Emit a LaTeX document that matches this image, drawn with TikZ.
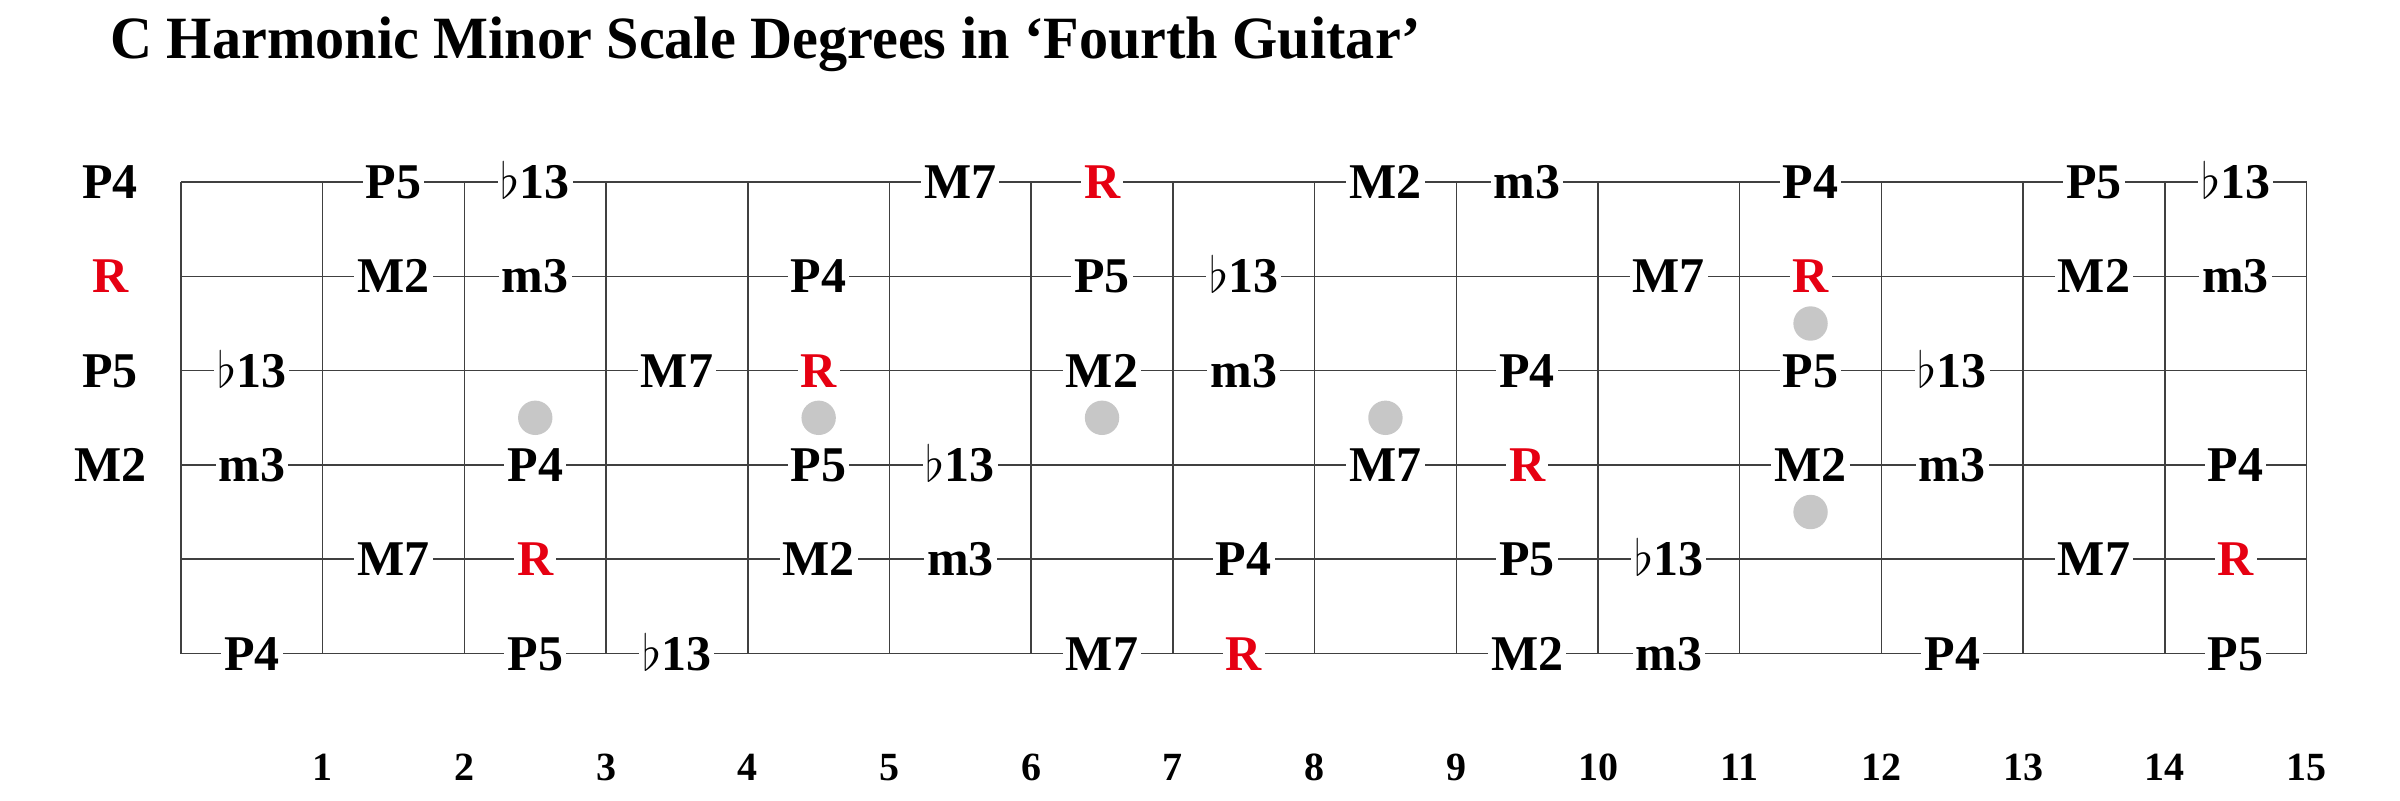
\documentclass[tikz,border=0pt]{standalone}
\usepackage{fontspec}
\setmainfont{Liberation Serif}
\usepackage{xcolor}
\definecolor{rootred}{RGB}{230,0,18}
\newcommand{\rootR}{\textcolor{rootred}{R}}
\newcommand{\flatXIII}{$\flat$13}

\begin{document}
\begin{tikzpicture}[x=0.5pt, y=-0.5pt,
	wire/.style={line width=0.75pt, black!75},
	deg/.style={fill=white, inner xsep=1.5pt, inner ysep=1pt, text height=16.5pt, text depth=0pt,
		font=\fontsize{25}{30}\selectfont\bfseries},
	fretno/.style={anchor=base, font=\fontsize{20}{24}\selectfont\bfseries},
	inlay/.style={fill=black!22}]
				\useasboundingbox (0,0) rectangle (2400,800);
				
				%% Título
				\node [anchor=base west, inner sep=0pt, font=\fontsize{30}{36}\selectfont\bfseries,
				xscale=0.97, transform shape] (title) at (110,58)
				{C Harmonic Minor Scale Degrees in ‘Fourth Guitar’};
				
				%% Cordas e trastes
				\foreach \y in {182,276.3,370.6,464.9,559.2,653.5}
				\draw [wire] (181,\y) -- (2306.5,\y);
				
				\foreach \k in {0,...,15}
				\draw [wire] ({181+141.7*\k},182) -- ({181+141.7*\k},653.5);
				
				%% Marcas
				\foreach \k in {3,5,7,9}
				\fill [inlay] ({181+141.7*(\k-0.5)},417.8) circle [radius=8.6pt];
				\fill [inlay] ({181+141.7*11.5},323.5) circle [radius=8.6pt];
				\fill [inlay] ({181+141.7*11.5},512) circle [radius=8.6pt];
				
				%% Números dos trastes
				\foreach \k in {1,...,15}
				\node [fretno] (fn\k) at ({181+141.7*\k},780) {\k};
				
				%% Corda 1 (F)
				\foreach \f/\d in {0/P4, 2/P5, 3/\flatXIII, 6/M7, 7/\rootR, 9/M2, 10/m3, 12/P4, 14/P5, 15/\flatXIII}
				\node [deg] (s1-\f) at ({181+141.7*(\f-0.5)},182) {\d};
				
				%% Corda 2 (C)
				\foreach \f/\d in {0/\rootR, 2/M2, 3/m3, 5/P4, 7/P5, 8/\flatXIII, 11/M7, 12/\rootR, 14/M2, 15/m3}
				\node [deg] (s2-\f) at ({181+141.7*(\f-0.5)},276.3) {\d};
				
				%% Corda 3 (G)
				\foreach \f/\d in {0/P5, 1/\flatXIII, 4/M7, 5/\rootR, 7/M2, 8/m3, 10/P4, 12/P5, 13/\flatXIII}
				\node [deg] (s3-\f) at ({181+141.7*(\f-0.5)},370.6) {\d};
				
				%% Corda 4 (D)
				\foreach \f/\d in {0/M2, 1/m3, 3/P4, 5/P5, 6/\flatXIII, 9/M7, 10/\rootR, 12/M2, 13/m3, 15/P4}
				\node [deg] (s4-\f) at ({181+141.7*(\f-0.5)},464.9) {\d};
				
				%% Corda 5 (A)
				\foreach \f/\d in {2/M7, 3/\rootR, 5/M2, 6/m3, 8/P4, 10/P5, 11/\flatXIII, 14/M7, 15/\rootR}
				\node [deg] (s5-\f) at ({181+141.7*(\f-0.5)},559.2) {\d};
				
				%% Corda 6 (E)
				\foreach \f/\d in {1/P4, 3/P5, 4/\flatXIII, 7/M7, 8/\rootR, 10/M2, 11/m3, 13/P4, 15/P5}
				\node [deg] (s6-\f) at ({181+141.7*(\f-0.5)},653.5) {\d};
				
			\end{tikzpicture}
\end{document}
